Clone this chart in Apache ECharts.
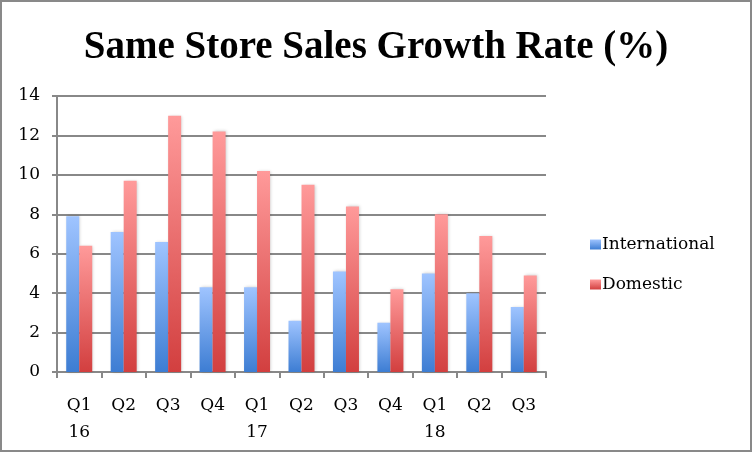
<!DOCTYPE html>
<html>
<head>
<meta charset="utf-8">
<script src="https://cdn.jsdelivr.net/npm/echarts@6/dist/echarts.min.js"></script>
<style>
html,body{margin:0;padding:0;background:#fff;}
#frame{width:752px;height:452px;box-sizing:border-box;border:2px solid #898989;position:relative;overflow:hidden;}
#chart{position:absolute;left:-2px;top:-2px;width:752px;height:452px;}
</style>
</head>
<body>
<div id="frame"><div id="chart"></div></div>
<script>
const categories = ['Q1\n16','Q2','Q3','Q4','Q1\n17','Q2','Q3','Q4','Q1\n18','Q2','Q3'];
const international = [7.9, 7.1, 6.6, 4.3, 4.3, 2.6, 5.1, 2.5, 5.0, 4.0, 3.3];
const domestic = [6.4, 9.7, 13.0, 12.2, 10.2, 9.5, 8.4, 4.2, 8.0, 6.9, 4.9];
const yTicks = {min: 0, max: 14, interval: 2};

const titleFont = 'Liberation Serif';
const font = 'DejaVu Serif';
function grad(top, bottom){
  return new echarts.graphic.LinearGradient(0,0,0,1,[{offset:0,color:top},{offset:1,color:bottom}]);
}
const blue = grad('#9fc4ff','#3d7dd3');
const red = grad('#ff9a9a','#d23f3f');

const chart = echarts.init(document.getElementById('chart'));
chart.setOption({
  animation:false,
  title:{
    text:'Same Store Sales Growth Rate (%)',
    left:'center', top:23,
    textStyle:{fontFamily:titleFont, fontWeight:'bold', fontSize:39, color:'#000'}
  },
  legend:{
    orient:'vertical', left:585, top:231,
    itemWidth:11, itemHeight:10, itemGap:23,
    icon:'rect',
    textStyle:{fontFamily:font, fontSize:17, color:'#000', padding:[0,0,0,-4]},
    data:[{name:'International', itemStyle:{color:blue}},{name:'Domestic', itemStyle:{color:red}}]
  },
  grid:{left:57, right:206, top:96, bottom:80},
  xAxis:{
    type:'category', data:categories,
    axisLine:{lineStyle:{color:'#888', width:2}},
    axisTick:{show:true, length:6, lineStyle:{color:'#888', width:2}},
    axisLabel:{fontFamily:font, fontSize:17, color:'#000', margin:20, lineHeight:27, align:'center'}
  },
  yAxis:{
    type:'value', min:yTicks.min, max:yTicks.max, interval:yTicks.interval,
    axisLine:{show:true, lineStyle:{color:'#888', width:2}},
    axisTick:{show:true, length:5, lineStyle:{color:'#888', width:2}},
    splitLine:{lineStyle:{color:'#888', width:2}},
    axisLabel:{fontFamily:font, fontSize:17, color:'#000', margin:17}
  },
  series:[
    {name:'International', type:'bar', data:international, barWidth:13, barGap:'0%',
     itemStyle:{color:blue, shadowBlur:3, shadowColor:'rgba(0,0,0,0.2)', shadowOffsetX:1}},
    {name:'Domestic', type:'bar', data:domestic, barWidth:13, barGap:'0%',
     itemStyle:{color:red, shadowBlur:3, shadowColor:'rgba(0,0,0,0.2)', shadowOffsetX:1}}
  ]
});
</script>
</body>
</html>
